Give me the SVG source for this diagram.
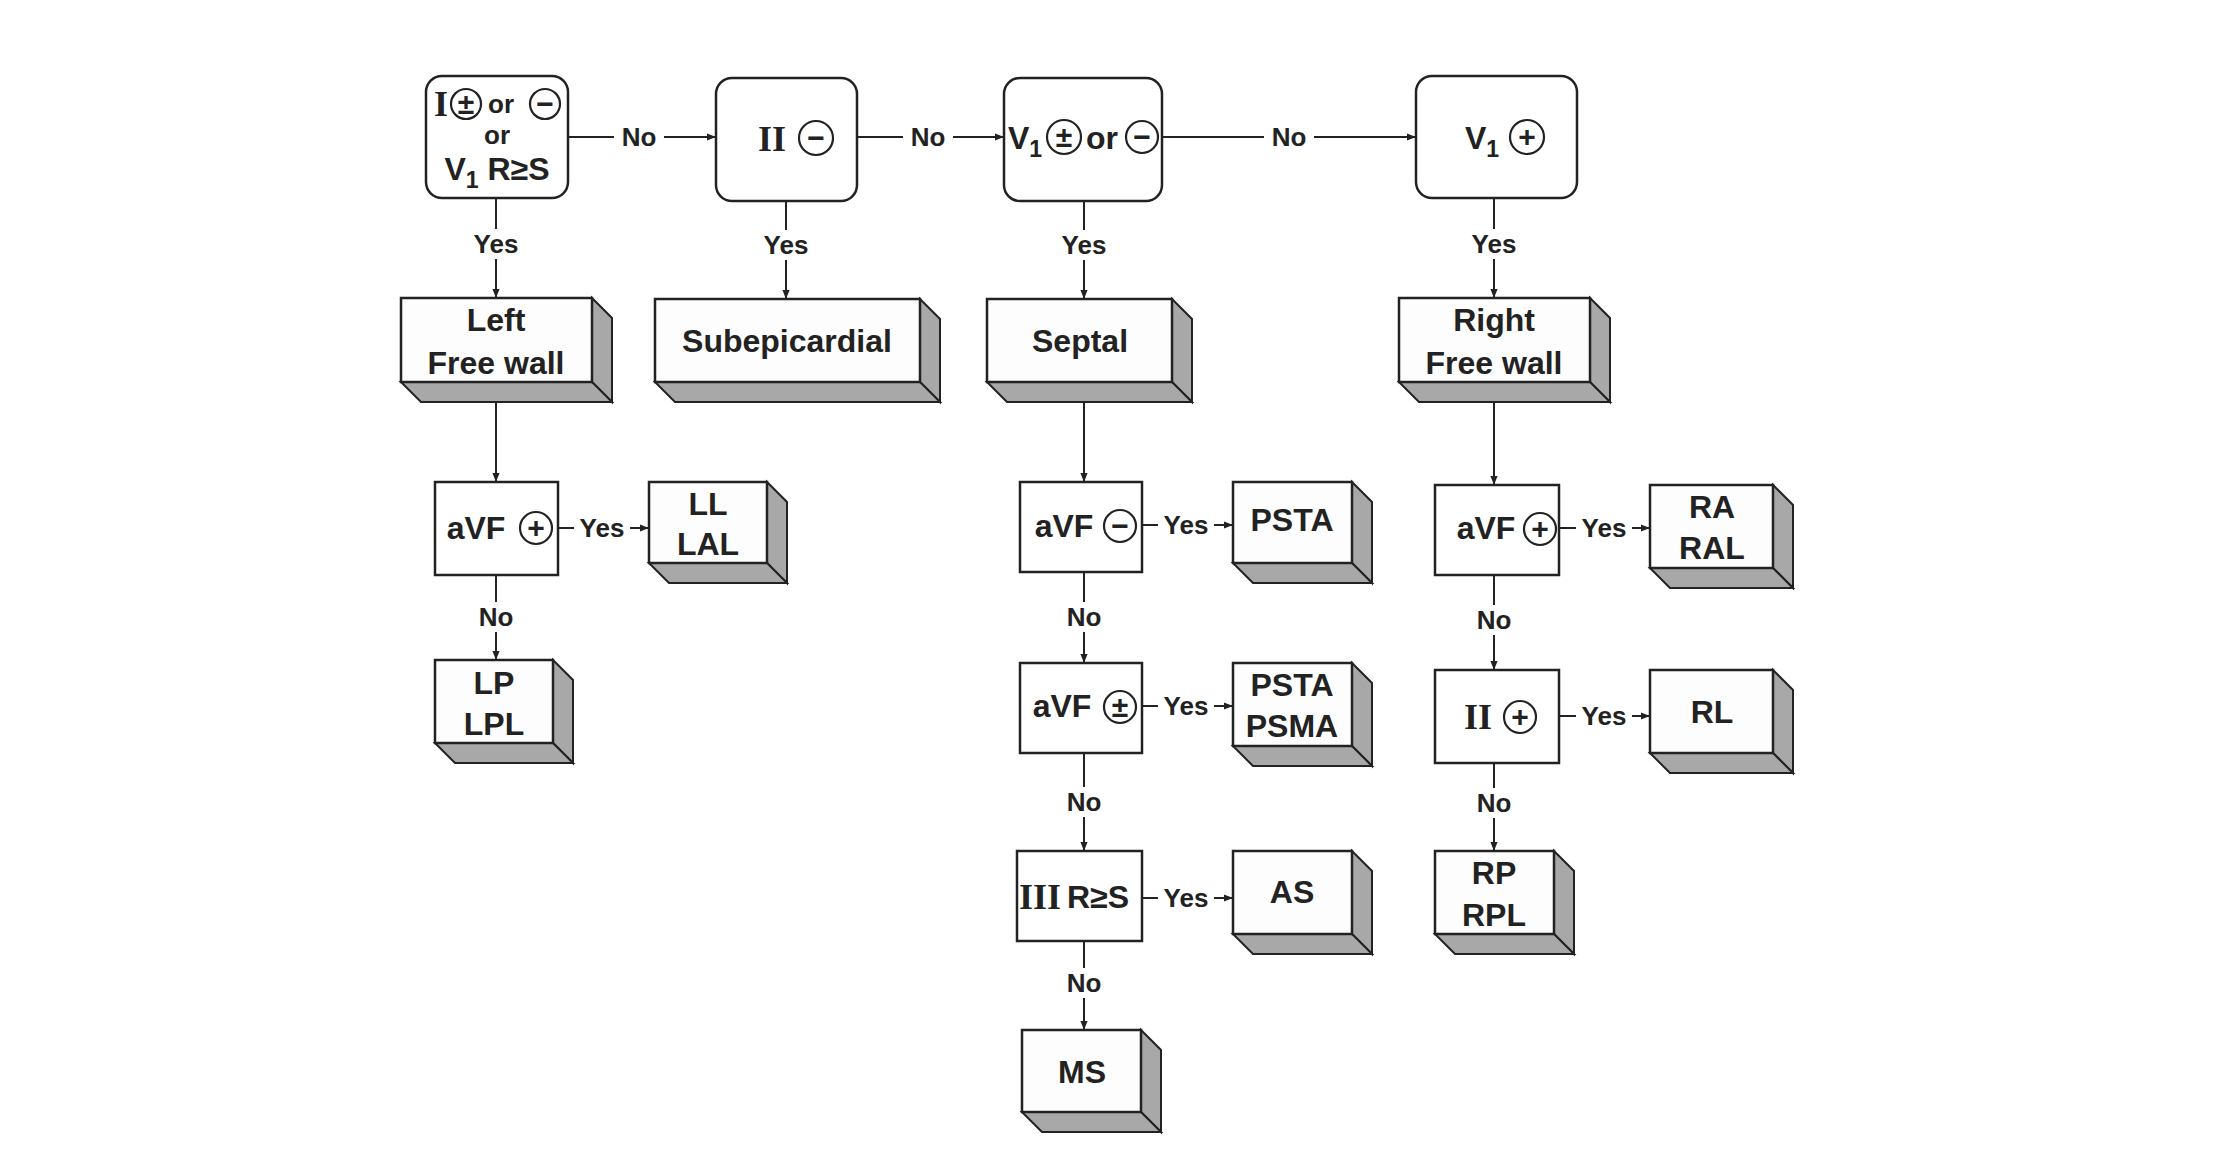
<svg xmlns="http://www.w3.org/2000/svg" width="2236" height="1149" viewBox="0 0 2236 1149">
<defs>
<marker id="ah" viewBox="0 0 10 10" refX="10" refY="5" markerWidth="9" markerHeight="9" orient="auto" markerUnits="userSpaceOnUse"><path d="M0,1 L10,5 L0,9 z" fill="#222"/></marker>
</defs>
<style>
.q{fill:#fff;stroke:#222;stroke-width:2.5}
.f{fill:#fdfdfd;stroke:#222;stroke-width:2.5}
.s{fill:#a8a8a8;stroke:#222;stroke-width:2}
.t{font-family:"Liberation Sans",Arial,sans-serif;font-weight:bold;font-size:32px;fill:#222;text-anchor:middle}
.r{font-family:"Liberation Serif",serif;font-weight:bold;font-size:36px;fill:#222;text-anchor:middle}
.l{font-family:"Liberation Sans",Arial,sans-serif;font-weight:bold;font-size:26px;fill:#222;text-anchor:middle}
.c{fill:none;stroke:#222;stroke-width:2.2}
.k{font-family:"Liberation Sans",Arial,sans-serif;font-weight:bold;font-size:30px;fill:#222;text-anchor:middle}
.e line{stroke:#222;stroke-width:2}
.bg{fill:#fff}
</style>
<rect width="2236" height="1149" fill="#fff"/>
<g id="connectors" class="e">
<line x1="568" y1="137" x2="716" y2="137" marker-end="url(#ah)"/>
<line x1="857" y1="137" x2="1004" y2="137" marker-end="url(#ah)"/>
<line x1="1162" y1="137" x2="1416" y2="137" marker-end="url(#ah)"/>
<line x1="496" y1="198" x2="496" y2="298" marker-end="url(#ah)"/>
<line x1="786" y1="201" x2="786" y2="299" marker-end="url(#ah)"/>
<line x1="1084" y1="201" x2="1084" y2="299" marker-end="url(#ah)"/>
<line x1="1494" y1="198" x2="1494" y2="298" marker-end="url(#ah)"/>
<line x1="496" y1="402" x2="496" y2="482" marker-end="url(#ah)"/>
<line x1="558" y1="528" x2="649" y2="528" marker-end="url(#ah)"/>
<line x1="496" y1="575" x2="496" y2="660" marker-end="url(#ah)"/>
<line x1="1084" y1="402" x2="1084" y2="482" marker-end="url(#ah)"/>
<line x1="1142" y1="525" x2="1233" y2="525" marker-end="url(#ah)"/>
<line x1="1084" y1="572" x2="1084" y2="663" marker-end="url(#ah)"/>
<line x1="1142" y1="706" x2="1233" y2="706" marker-end="url(#ah)"/>
<line x1="1084" y1="753" x2="1084" y2="851" marker-end="url(#ah)"/>
<line x1="1142" y1="898" x2="1233" y2="898" marker-end="url(#ah)"/>
<line x1="1084" y1="941" x2="1084" y2="1030" marker-end="url(#ah)"/>
<line x1="1494" y1="402" x2="1494" y2="485" marker-end="url(#ah)"/>
<line x1="1559" y1="528" x2="1650" y2="528" marker-end="url(#ah)"/>
<line x1="1494" y1="575" x2="1494" y2="670" marker-end="url(#ah)"/>
<line x1="1559" y1="716" x2="1650" y2="716" marker-end="url(#ah)"/>
<line x1="1494" y1="763" x2="1494" y2="851" marker-end="url(#ah)"/>
<g>
<rect class="bg" x="614" y="122" width="50" height="30"/><text class="l" x="639" y="146">No</text>
<rect class="bg" x="903" y="122" width="50" height="30"/><text class="l" x="928" y="146">No</text>
<rect class="bg" x="1264" y="122" width="50" height="30"/><text class="l" x="1289" y="146">No</text>
<rect class="bg" x="468" y="229" width="56" height="30"/><text class="l" x="496" y="253">Yes</text>
<rect class="bg" x="758" y="230" width="56" height="30"/><text class="l" x="786" y="254">Yes</text>
<rect class="bg" x="1056" y="230" width="56" height="30"/><text class="l" x="1084" y="254">Yes</text>
<rect class="bg" x="1466" y="229" width="56" height="30"/><text class="l" x="1494" y="253">Yes</text>
<rect class="bg" x="574" y="513" width="56" height="30"/><text class="l" x="602" y="537">Yes</text>
<rect class="bg" x="472" y="602" width="48" height="30"/><text class="l" x="496" y="626">No</text>
<rect class="bg" x="1158" y="510" width="56" height="30"/><text class="l" x="1186" y="534">Yes</text>
<rect class="bg" x="1060" y="602" width="48" height="30"/><text class="l" x="1084" y="626">No</text>
<rect class="bg" x="1158" y="691" width="56" height="30"/><text class="l" x="1186" y="715">Yes</text>
<rect class="bg" x="1060" y="787" width="48" height="30"/><text class="l" x="1084" y="811">No</text>
<rect class="bg" x="1158" y="883" width="56" height="30"/><text class="l" x="1186" y="907">Yes</text>
<rect class="bg" x="1060" y="968" width="48" height="30"/><text class="l" x="1084" y="992">No</text>
<rect class="bg" x="1576" y="513" width="56" height="30"/><text class="l" x="1604" y="537">Yes</text>
<rect class="bg" x="1470" y="605" width="48" height="30"/><text class="l" x="1494" y="629">No</text>
<rect class="bg" x="1576" y="701" width="56" height="30"/><text class="l" x="1604" y="725">Yes</text>
<rect class="bg" x="1470" y="788" width="48" height="30"/><text class="l" x="1494" y="812">No</text>
</g>
</g>
<g id="q1">
<rect class="q" x="426" y="76" width="142" height="122" rx="16"/>
<text class="r" x="441" y="116">I</text>
<circle class="c" cx="466" cy="104" r="15"/><text class="k" x="466" y="114">±</text>
<text class="l" x="501" y="113">or</text>
<circle class="c" cx="545" cy="104" r="15"/><text class="k" x="545" y="114">−</text>
<text class="l" x="497" y="144">or</text>
<text class="t" x="497" y="180">V<tspan font-size="23" dy="8">1</tspan><tspan dy="-8"> R≥S</tspan></text>
</g>
<g id="q2">
<rect class="q" x="716" y="78" width="141" height="123" rx="16"/>
<text class="r" x="772" y="151">II</text>
<circle class="c" cx="816" cy="138" r="17"/><text class="k" x="816" y="148">−</text>
</g>
<g id="q3">
<rect class="q" x="1004" y="78" width="158" height="123" rx="16"/>
<text class="t" x="1025" y="149">V<tspan font-size="23" dy="8">1</tspan></text>
<circle class="c" cx="1064" cy="137" r="17"/><text class="k" x="1064" y="147">±</text>
<text class="t" x="1102" y="149">or</text>
<circle class="c" cx="1142" cy="137" r="16"/><text class="k" x="1142" y="147">−</text>
</g>
<g id="q4">
<rect class="q" x="1416" y="76" width="161" height="122" rx="16"/>
<text class="t" x="1482" y="149">V<tspan font-size="23" dy="8">1</tspan></text>
<circle class="c" cx="1527" cy="137" r="17"/><text class="k" x="1527" y="147">+</text>
</g>
<g id="lfw">
<polygon class="s" points="592,298 612,318 612,402 592,382"/><polygon class="s" points="401,382 592,382 612,402 421,402"/>
<rect class="f" x="401" y="298" width="191" height="84"/>
<text class="t" x="496" y="331">Left</text><text class="t" x="496" y="374">Free wall</text>
</g>
<g id="subepi">
<polygon class="s" points="920,299 940,319 940,402 920,382"/><polygon class="s" points="655,382 920,382 940,402 675,402"/>
<rect class="f" x="655" y="299" width="265" height="83"/>
<text class="t" x="787" y="352">Subepicardial</text>
</g>
<g id="septal">
<polygon class="s" points="1172,299 1192,319 1192,402 1172,382"/><polygon class="s" points="987,382 1172,382 1192,402 1007,402"/>
<rect class="f" x="987" y="299" width="185" height="83"/>
<text class="t" x="1080" y="352">Septal</text>
</g>
<g id="rfw">
<polygon class="s" points="1590,298 1610,318 1610,402 1590,382"/><polygon class="s" points="1399,382 1590,382 1610,402 1419,402"/>
<rect class="f" x="1399" y="298" width="191" height="84"/>
<text class="t" x="1494" y="331">Right</text><text class="t" x="1494" y="374">Free wall</text>
</g>
<g id="avf-l">
<rect class="q" x="435" y="482" width="123" height="93"/>
<text class="t" x="476" y="539" font-size="29">aVF</text>
<circle class="c" cx="536" cy="528" r="16"/><text class="k" x="536" y="538">+</text>
</g>
<g id="ll">
<polygon class="s" points="767,482 787,502 787,583 767,563"/><polygon class="s" points="649,563 767,563 787,583 669,583"/>
<rect class="f" x="649" y="482" width="118" height="81"/>
<text class="t" x="708" y="515">LL</text><text class="t" x="708" y="555">LAL</text>
</g>
<g id="lp">
<polygon class="s" points="553,660 573,680 573,763 553,743"/><polygon class="s" points="435,743 553,743 573,763 455,763"/>
<rect class="f" x="435" y="660" width="118" height="83"/>
<text class="t" x="494" y="694">LP</text><text class="t" x="494" y="735">LPL</text>
</g>
<g id="avf-minus">
<rect class="q" x="1020" y="482" width="122" height="90"/>
<text class="t" x="1064" y="537" font-size="29">aVF</text>
<circle class="c" cx="1120" cy="526" r="16"/><text class="k" x="1120" y="536">−</text>
</g>
<g id="psta1">
<polygon class="s" points="1352,482 1372,502 1372,583 1352,563"/><polygon class="s" points="1233,563 1352,563 1372,583 1253,583"/>
<rect class="f" x="1233" y="482" width="119" height="81"/>
<text class="t" x="1292" y="531">PSTA</text>
</g>
<g id="avf-pm">
<rect class="q" x="1020" y="663" width="122" height="90"/>
<text class="t" x="1062" y="717" font-size="29">aVF</text>
<circle class="c" cx="1120" cy="707" r="16"/><text class="k" x="1120" y="717">±</text>
</g>
<g id="psta2">
<polygon class="s" points="1352,663 1372,683 1372,766 1352,746"/><polygon class="s" points="1233,746 1352,746 1372,766 1253,766"/>
<rect class="f" x="1233" y="663" width="119" height="83"/>
<text class="t" x="1292" y="696">PSTA</text><text class="t" x="1292" y="737">PSMA</text>
</g>
<g id="iii">
<rect class="q" x="1017" y="851" width="125" height="90"/>
<text class="r" x="1040" y="909" font-size="30">III</text>
<text class="t" x="1098" y="908" font-size="29">R≥S</text>
</g>
<g id="as">
<polygon class="s" points="1352,851 1372,871 1372,954 1352,934"/><polygon class="s" points="1233,934 1352,934 1372,954 1253,954"/>
<rect class="f" x="1233" y="851" width="119" height="83"/>
<text class="t" x="1292" y="903">AS</text>
</g>
<g id="ms">
<polygon class="s" points="1141,1030 1161,1050 1161,1132 1141,1112"/><polygon class="s" points="1022,1112 1141,1112 1161,1132 1042,1132"/>
<rect class="f" x="1022" y="1030" width="119" height="82"/>
<text class="t" x="1082" y="1083">MS</text>
</g>
<g id="avf-r">
<rect class="q" x="1435" y="485" width="124" height="90"/>
<text class="t" x="1486" y="539" font-size="29">aVF</text>
<circle class="c" cx="1540" cy="529" r="16"/><text class="k" x="1540" y="539">+</text>
</g>
<g id="ra">
<polygon class="s" points="1773,485 1793,505 1793,588 1773,568"/><polygon class="s" points="1650,568 1773,568 1793,588 1670,588"/>
<rect class="f" x="1650" y="485" width="123" height="83"/>
<text class="t" x="1712" y="518">RA</text><text class="t" x="1712" y="559">RAL</text>
</g>
<g id="ii-plus">
<rect class="q" x="1435" y="670" width="124" height="93"/>
<text class="r" x="1478" y="729">II</text>
<circle class="c" cx="1520" cy="717" r="16"/><text class="k" x="1520" y="727">+</text>
</g>
<g id="rl">
<polygon class="s" points="1773,670 1793,690 1793,773 1773,753"/><polygon class="s" points="1650,753 1773,753 1793,773 1670,773"/>
<rect class="f" x="1650" y="670" width="123" height="83"/>
<text class="t" x="1712" y="723">RL</text>
</g>
<g id="rp">
<polygon class="s" points="1554,851 1574,871 1574,954 1554,934"/><polygon class="s" points="1435,934 1554,934 1574,954 1455,954"/>
<rect class="f" x="1435" y="851" width="119" height="83"/>
<text class="t" x="1494" y="884">RP</text><text class="t" x="1494" y="926">RPL</text>
</g>
</svg>
